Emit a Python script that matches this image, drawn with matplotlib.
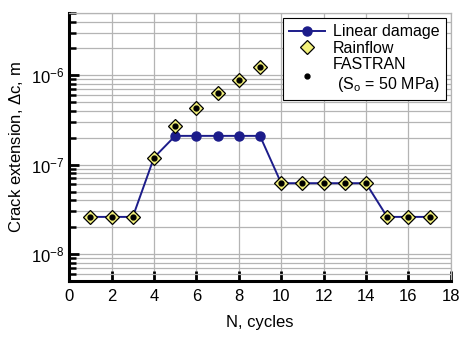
import numpy as np
import matplotlib.pyplot as plt
from matplotlib.ticker import LogLocator, NullFormatter, MultipleLocator

plt.rcParams['font.family'] = ['Liberation Sans', 'DejaVu Sans']
plt.rcParams['mathtext.default'] = 'regular'

cycles = np.arange(1, 18)
linear = [2.6e-8, 2.6e-8, 2.6e-8, 1.2e-7, 2.1e-7, 2.1e-7, 2.1e-7, 2.1e-7, 2.1e-7,
          6.2e-8, 6.2e-8, 6.2e-8, 6.2e-8, 6.2e-8, 2.6e-8, 2.6e-8, 2.6e-8]
rainflow = [2.6e-8, 2.6e-8, 2.6e-8, 1.2e-7, 2.7e-7, 4.3e-7, 6.4e-7, 8.9e-7, 1.24e-6,
            6.2e-8, 6.2e-8, 6.2e-8, 6.2e-8, 6.2e-8, 2.6e-8, 2.6e-8, 2.6e-8]
fastran = rainflow

fig = plt.figure(figsize=(4.74, 3.4), dpi=100)
ax = fig.add_axes([0.146, 0.174, 0.805, 0.788])

ax.plot(cycles, linear, '-o', color='#1c1c8a', lw=1.4, ms=6.5, label='Linear damage', zorder=3)
ax.plot(cycles, rainflow, 'D', color='#f2f07a', mec='black', mew=0.9, ms=7.5,
        ls='none', label='Rainflow', zorder=4)
ax.plot(cycles, fastran, 'o', color='black', ms=3.5, ls='none',
        label='FASTRAN\n ($S_o$ = 50 MPa)', zorder=5)

ax.set_yscale('log')
ax.set_xlim(0, 18)
ax.set_ylim(5e-9, 5e-6)
ax.xaxis.set_major_locator(MultipleLocator(2))
ax.yaxis.set_major_locator(LogLocator(base=10, numticks=10))
ax.yaxis.set_minor_locator(LogLocator(base=10, subs=np.arange(2, 10), numticks=20))
ax.yaxis.set_minor_formatter(NullFormatter())

ax.grid(True, which='both', color='#b4b4b4', lw=0.9)
ax.set_axisbelow(True)

ax.tick_params(axis='both', which='major', direction='in', labelsize=12,
               width=2, length=7, top=False, right=False)
ax.tick_params(axis='y', which='minor', direction='in', width=1.8, length=5, right=False)
ax.tick_params(axis='x', pad=6)

for s in ['left', 'bottom']:
    ax.spines[s].set_linewidth(2.2)
for s in ['top', 'right']:
    ax.spines[s].set_color('#b4b4b4')
    ax.spines[s].set_linewidth(0.9)

ax.set_xlabel('N, cycles', fontsize=12, labelpad=8)
ax.set_ylabel('Crack extension, $\\Delta$c, m', fontsize=12, labelpad=4)

leg = ax.legend(loc='upper right', fontsize=11.5, fancybox=False, framealpha=1,
                edgecolor='black', borderaxespad=0.3, handlelength=2.2,
                labelspacing=0.1, borderpad=0.4, handletextpad=0.5)
leg.get_frame().set_linewidth(0.8)

fig.savefig('out.png', dpi=100)
